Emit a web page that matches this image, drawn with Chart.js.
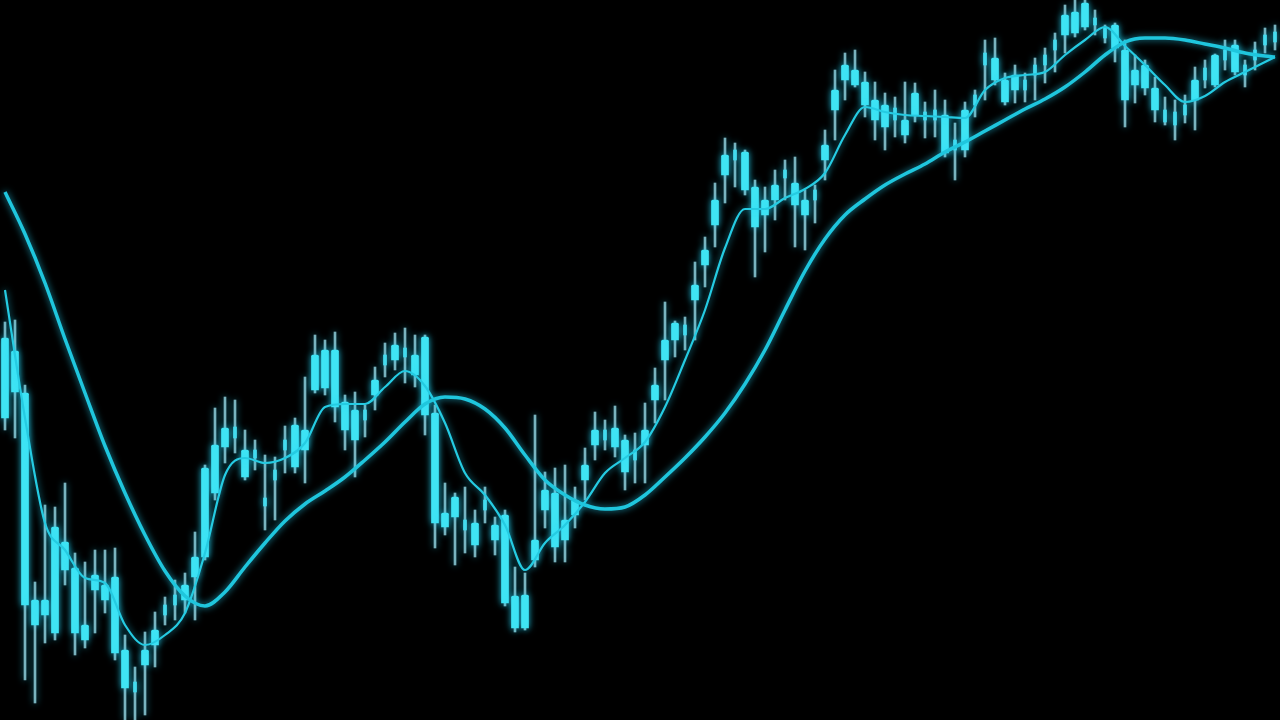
<!DOCTYPE html>
<html>
<head>
<meta charset="utf-8">
<script src="https://cdn.jsdelivr.net/npm/chart.js@4.4.1/dist/chart.umd.min.js"></script>
<style>
  html, body { margin: 0; padding: 0; background: #000; }
  #wrap { width: 1280px; height: 720px; }
</style>
</head>
<body>
<div id="wrap"><canvas id="chart"></canvas></div>
<script>
// candle prices, one entry per session
const open = [382,369,327,95,105,193,150,152,80,130,120,143,70,28,55,75,105,115,120,143,
  163,227,273,282,270,262,222,240,270,253,270,330,332,313,318,310,300,325,355,360,
  363,345,383,307,207,203,200,175,210,180,205,124,92,160,210,227,180,205,240,275,
  280,273,280,260,275,320,360,380,385,420,455,495,545,560,568,533,505,520,542,515,
  520,520,560,610,640,635,638,620,615,600,600,605,600,600,605,580,570,615,655,640,
  640,630,630,645,655,670,685,687,693,702,692,672,670,650,655,632,610,608,605,620,
  640,665,660,675,655,660,675,678];
const high = [398,400,335,138,215,213,237,167,158,170,170,172,85,53,88,108,123,140,147,188,
  255,312,323,320,290,280,265,263,294,302,343,385,380,388,325,328,315,353,377,387,
  392,385,385,315,237,227,233,210,233,203,210,153,147,305,248,252,255,233,272,308,
  300,314,285,287,317,352,418,399,403,458,483,537,582,577,570,540,533,550,560,563,
  530,535,590,650,667,670,648,638,627,623,638,637,618,630,620,597,618,630,680,682,
  647,655,647,662,672,687,715,720,720,710,695,697,680,665,660,643,623,620,625,653,
  660,666,680,680,660,678,692,695];
const low = [290,282,40,17,77,80,135,65,72,87,107,60,0,0,5,53,95,100,107,100,
  160,220,257,267,240,250,190,200,247,247,237,327,325,298,270,243,283,310,343,350,
  337,333,285,172,185,155,167,163,197,165,114,88,90,153,192,158,158,192,220,260,
  270,263,230,237,237,297,320,363,370,380,433,473,517,533,525,443,468,500,520,473,
  470,497,540,580,620,633,603,580,570,583,577,598,582,583,563,540,563,603,620,635,
  615,617,618,620,637,648,667,683,690,685,677,658,593,617,625,598,595,580,597,590,
  632,633,650,645,633,650,667,670];
const close = [302,328,115,120,120,87,178,87,95,145,135,67,32,38,70,90,115,125,135,163,
  252,275,292,293,243,270,214,250,280,295,290,365,370,370,290,280,310,340,365,375,
  372,365,305,197,193,223,190,197,220,195,117,92,125,180,230,173,200,220,255,290,
  290,292,248,270,290,335,380,397,395,435,470,520,565,570,530,493,520,535,550,537,
  505,530,575,630,655,650,615,600,593,612,585,627,608,610,567,570,610,625,667,662,
  618,645,640,655,665,680,705,708,717,695,682,695,620,635,632,610,598,595,615,640,
  652,635,670,648,645,670,685,688];

// moving averages, sampled every second session plus the last one
const maStep = 2;
const maFast = [430,302,197,170,142,137,95,75,85,107,
  167,245,262,257,262,277,313,316,316,333,
  349,334,297,247,225,195,150,177,195,218,
  247,262,278,313,360,410,472,511,511,522,
  531,547,585,613,608,605,604,603,602,630,
  642,645,648,665,680,693,674,655,635,618,
  624,638,648,658,663];
const maSlow = [528,486,437,381,327,274,227,185,149,124,
  114,128,153,177,199,216,229,243,260,278,
  298,316,323,321,311,292,265,240,225,215,
  211,213,225,243,262,283,307,336,370,410,
  449,481,505,521,535,546,556,568,578,589,
  600,611,621,633,648,665,678,682,682,680,
  676,672,667,664,663];

const lastIdx = open.length - 1;
const maX = (k) => Math.min(k * maStep, lastIdx);

const wickData = high.map((h, i) => ({ x: i, y: [low[i], h] }));
// bodies: tall ones are drawn wide, short ones as thin strokes
const wideBodies = [];
const thinBodies = [];
open.forEach((o, i) => {
    const lo = Math.min(o, close[i]);
    const hi = Math.max(o, close[i]);
    if (hi - lo >= 14) wideBodies.push({ x: i, y: [lo, hi] });
    else thinBodies.push({ x: i, y: [lo, Math.max(hi, lo + 4)] });
});
const fastData = maFast.map((v, k) => ({ x: maX(k), y: v }));
const slowData = maSlow.map((v, k) => ({ x: maX(k), y: v }));

// soft neon glow around everything that is drawn
const glow = {
    id: 'glow',
    beforeDatasetDraw(chart) {
        const ctx = chart.ctx;
        ctx.save();
        ctx.shadowColor = 'rgba(40, 220, 255, 0.7)';
        ctx.shadowBlur = 7;
    },
    afterDatasetDraw(chart) {
        chart.ctx.restore();
    }
};

const ctx = document.getElementById('chart').getContext('2d');
new Chart(ctx, {
    type: 'bar',
    data: {
        datasets: [
            {
                type: 'line',
                label: 'MA slow',
                data: slowData,
                borderColor: '#1fc6dd',
                borderWidth: 3.5,
                pointRadius: 0,
                cubicInterpolationMode: 'monotone',
                order: 1
            },
            {
                type: 'line',
                label: 'MA fast',
                data: fastData,
                borderColor: '#25cbe2',
                borderWidth: 2.2,
                pointRadius: 0,
                cubicInterpolationMode: 'monotone',
                order: 2
            },
            {
                label: 'wick',
                data: wickData,
                backgroundColor: 'rgba(150, 218, 230, 0.8)',
                barThickness: 2,
                grouped: false,
                order: 5
            },
            {
                label: 'thin body',
                data: thinBodies,
                backgroundColor: '#45dcef',
                barThickness: 3,
                grouped: false,
                order: 4
            },
            {
                label: 'body',
                data: wideBodies,
                backgroundColor: '#3fe4f4',
                barThickness: 7,
                borderRadius: 1.5,
                grouped: false,
                order: 3
            }
        ]
    },
    options: {
        responsive: true,
        maintainAspectRatio: false,
        animation: false,
        layout: { padding: 0 },
        plugins: {
            legend: { display: false },
            tooltip: { enabled: false }
        },
        scales: {
            x: {
                type: 'linear',
                min: -0.5,
                max: lastIdx + 0.5,
                offset: false,
                display: false
            },
            y: {
                min: 0,
                max: 720,
                display: false
            }
        }
    },
    plugins: [glow]
});
</script>
</body>
</html>
